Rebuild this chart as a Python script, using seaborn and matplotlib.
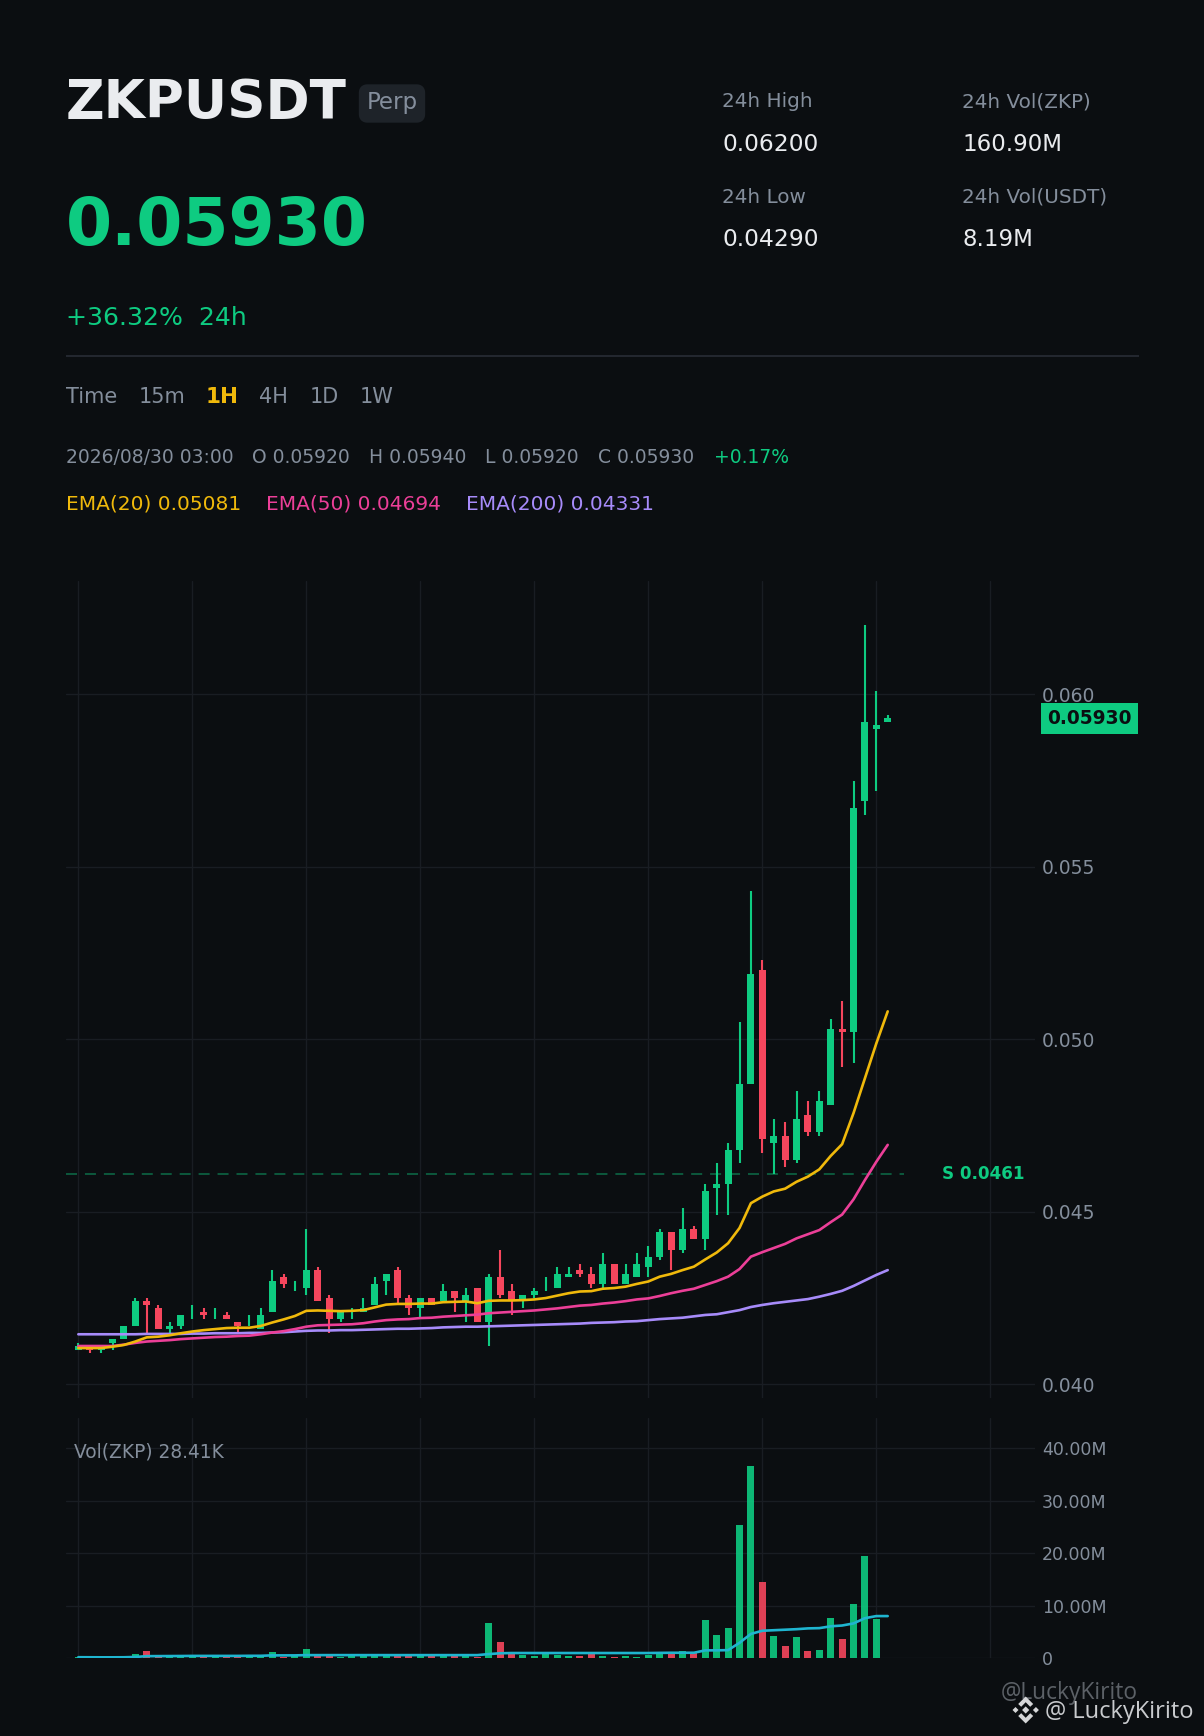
import numpy as np
import pandas as pd
import matplotlib
matplotlib.use("Agg")
import matplotlib.pyplot as plt
from matplotlib.patches import FancyBboxPatch, Polygon, Rectangle
import seaborn as sns

# ---- data (prices in units of 0.0001, volumes in millions) ----
opens = [410,411,410,412,413,417,424,422,416,417,421,421,420,420,418,418,416,421,431,428,
         428,433,425,419,420,421,423,430,433,425,422,425,424,427,424,428,418,431,427,424,
         426,428,428,431,433,432,429,435,429,431,434,437,444,439,445,442,457,458,468,487,
         520,470,472,465,478,473,481,503,502,569,590,592]
highs = [412,411,411,413,417,425,425,423,418,420,423,422,422,421,418,420,422,433,432,430,
         445,434,426,421,422,425,431,432,434,426,425,425,429,427,428,428,432,439,429,426,
         428,431,434,434,435,434,438,435,435,438,440,445,444,451,446,458,464,470,505,543,
         523,477,476,485,482,485,506,511,575,620,601,594]
lows = [410,409,409,410,413,417,415,416,415,416,419,419,419,419,415,417,416,421,428,427,
        426,424,415,418,419,421,423,426,423,420,419,423,424,421,418,418,411,425,420,422,
        425,427,428,431,431,428,428,429,429,431,431,436,433,438,442,439,449,449,464,487,
        467,461,463,464,472,472,481,492,493,565,572,592]
closes = [411,410,411,413,417,424,423,416,417,420,421,420,420,419,417,418,420,430,429,428,
          433,424,419,421,420,422,429,432,425,422,425,423,427,425,426,418,431,426,424,426,
          427,428,432,432,432,429,435,429,432,435,437,444,439,445,442,456,458,468,487,519,
          471,472,465,477,473,482,503,502,567,592,591,593]
ema20 = [410.5,410.5,410.5,410.9,411.4,412.4,413.6,413.8,414.2,414.8,415.3,415.7,416.0,416.3,416.4,416.4,
         416.9,417.9,418.8,419.8,421.3,421.4,421.3,421.2,421.3,421.5,422.3,423.1,423.3,423.3,423.4,423.4,
         423.8,423.9,424.0,423.5,424.2,424.3,424.3,424.4,424.6,425.0,425.7,426.4,426.9,427.0,427.7,427.9,
         428.3,429.1,429.8,431.2,432.0,433.1,434.1,436.2,438.2,440.9,445.3,452.5,454.4,455.9,456.7,458.7,
         460.2,462.3,466.2,469.6,478.6,488.7,498.8,508.1]
ema50 = [411.1,411.1,411.1,411.1,411.5,412.0,412.4,412.6,412.8,413.1,413.3,413.5,413.7,413.8,414.0,414.1,
         414.5,415.0,415.4,416.0,416.7,417.1,417.2,417.3,417.4,417.7,418.2,418.6,418.8,418.9,419.2,419.3,
         419.6,419.8,420.0,420.2,420.6,420.8,421.0,421.2,421.4,421.7,422.0,422.4,422.8,423.0,423.4,423.7,
         424.1,424.6,424.9,425.6,426.4,427.1,427.7,428.8,429.9,431.2,433.4,437.0,438.3,439.5,440.7,442.3,
         443.5,444.7,447.0,449.2,453.6,459.2,464.5,469.4]
ema200 = [414.5,414.5,414.5,414.5,414.5,414.5,414.6,414.6,414.6,414.6,414.7,414.7,414.8,414.8,414.8,414.9,
          414.9,415.0,415.1,415.3,415.5,415.6,415.6,415.7,415.7,415.8,415.9,416.0,416.1,416.1,416.2,416.3,
          416.5,416.6,416.7,416.7,416.8,416.9,417.0,417.1,417.2,417.3,417.4,417.5,417.6,417.8,417.9,418.0,
          418.2,418.3,418.6,418.9,419.1,419.3,419.7,420.1,420.3,420.9,421.5,422.4,423.0,423.5,423.9,424.3,
          424.7,425.4,426.2,427.1,428.5,430.1,431.7,433.1]
volumes = [0.15,0.1,0.1,0.15,0.25,0.76,1.33,0.3,0.3,0.35,0.35,0.15,0.15,0.2,0.25,0.25,0.3,1.15,0.25,0.3,
           1.7,0.4,0.4,0.2,0.3,0.6,0.3,0.3,0.3,0.3,0.35,0.3,0.5,0.4,0.8,0.2,6.7,3.05,0.9,0.57,
           0.38,0.9,0.57,0.38,0.38,0.76,0.38,0.2,0.38,0.2,0.57,0.85,0.85,1.27,0.9,7.3,4.4,5.7,25.4,36.7,
           14.5,4.2,2.3,4.0,1.3,1.5,7.6,3.6,10.3,19.5,7.45,0.028]
vol_ma = [0.15,0.14,0.13,0.13,0.14,0.2,0.35,0.36,0.37,0.38,0.4,0.4,0.4,0.4,0.4,0.42,0.42,0.5,0.5,0.5,
          0.55,0.55,0.55,0.55,0.55,0.55,0.55,0.55,0.55,0.55,0.55,0.55,0.55,0.55,0.55,0.55,0.75,0.9,0.95,0.95,
          0.95,0.95,0.95,0.95,0.95,0.95,0.95,0.95,0.95,0.95,0.95,0.98,1.0,1.0,1.0,1.46,1.46,1.5,2.9,4.6,
          5.2,5.3,5.4,5.5,5.65,5.7,6.05,6.2,6.6,7.6,8.0,8.0]
price_ticks = [0.040,0.045,0.050,0.055,0.060]
volume_ticks = [0,10,20,30,40]
volume_labels = ["0","10.00M","20.00M","30.00M","40.00M"]
time_ticks = [0,10,20,30,40,50,60,70,80]
support = 0.0461
last_price = 0.0593

GREEN, RED = "#0ECB81", "#F6465D"
BG, GRID, GRAY, WHITE = "#0B0E11", "#191D23", "#848E9C", "#EAECEF"
YEL, PINK, PURP, CYAN = "#F0B90B", "#EC3F98", "#A78BFA", "#1FB5D0"
W, H = 1204, 1736

sns.set_theme(style="dark", rc={"axes.facecolor": BG, "figure.facecolor": BG,
                                "savefig.facecolor": BG})
plt.rcParams["font.family"] = ["DejaVu Sans"]

df = pd.DataFrame({"i": np.arange(len(opens)),
                   "o": np.array(opens) * 1e-4, "h": np.array(highs) * 1e-4,
                   "l": np.array(lows) * 1e-4, "c": np.array(closes) * 1e-4,
                   "e20": np.array(ema20) * 1e-4, "e50": np.array(ema50) * 1e-4,
                   "e200": np.array(ema200) * 1e-4,
                   "vol": np.array(volumes), "vma": np.array(vol_ma)})
df["dir"] = np.where(df.c >= df.o, "up", "down")
palette = {"up": GREEN, "down": RED}

fig = plt.figure(figsize=(W / 100, H / 100), dpi=100, facecolor=BG)


def px_axes(l, t, r, b):
    return fig.add_axes([l / W, 1 - b / H, (r - l) / W, (b - t) / H])


def txt(x, y, s, color=GRAY, size=14, weight="normal", **kw):
    return fig.text(x / W, 1 - y / H, s, color=color, fontsize=size, fontweight=weight,
                    va="baseline", ha=kw.pop("ha", "left"), **kw)


ax = px_axes(66, 581, 1035, 1398)
ax2 = px_axes(66, 1418, 1035, 1658)

for a in (ax, ax2):
    a.set_facecolor(BG)
    a.set_xlim(-1.08, 83.92)
    a.set_xticks(time_ticks)
    a.grid(True, color=GRID, lw=1)
    a.set_axisbelow(True)
    for s in a.spines.values():
        s.set_visible(False)
    a.yaxis.tick_right()
    a.tick_params(axis="x", length=0, labelbottom=False)
    a.tick_params(axis="y", length=0, pad=5, labelsize=12.5, labelcolor=GRAY)
ax.tick_params(axis="y", labelsize=13.5)

# candles
ax.vlines(df.i, df.l, df.h, colors=df.dir.map(palette), lw=1.5, zorder=3)
ax.bar(df.i, (df.c - df.o).abs(), bottom=df[["o", "c"]].min(axis=1), width=0.62,
       color=df.dir.map(palette), lw=0, zorder=3)

# EMA lines
for col, colr in (("e200", PURP), ("e50", PINK), ("e20", YEL)):
    sns.lineplot(data=df, x="i", y=col, color=colr, lw=1.9, errorbar=None, ax=ax, zorder=4)

ax.set_xlim(-1.08, 83.92)
ax.set_ylim(0.04 + (1384.3 - 1398) / 34500, 0.04 + (1384.3 - 581) / 34500)
ax.set_yticks(price_ticks)
ax.set_yticklabels([f"{t:.3f}" for t in price_ticks])
ax.set_xlabel("")
ax.set_ylabel("")

# support level
ax.plot([-1.08, 72.4], [support, support], color=GREEN, alpha=0.5, lw=1.1,
        dashes=(7.2, 5.2), dash_capstyle="butt", zorder=2)
ax.text(75.8, support, "S 0.0461", color=GREEN, fontsize=12.1, fontweight="bold", va="center", ha="left",
        clip_on=False)

# last price tag
fig.add_artist(Rectangle((1041 / W, 1 - 734 / H), 97 / W, 31 / H, transform=fig.transFigure,
                         facecolor=GREEN, edgecolor="none", zorder=5))
txt(1089, 724.5, "0.05930", color=BG, size=13.4, weight="bold", ha="center", zorder=6)

# volume panel
sns.barplot(data=df, x="i", y="vol", hue="dir", palette=palette, hue_order=["up", "down"], native_scale=True,
            dodge=False, width=0.62, saturation=1, alpha=0.9, legend=False, ax=ax2, zorder=3,
            edgecolor="none", linewidth=0)
sns.lineplot(data=df, x="i", y="vma", color=CYAN, lw=1.9, errorbar=None, ax=ax2, zorder=4)
ax2.set_xlim(-1.08, 83.92)
ax2.set_ylim(0, (1658 - 1418) / 5.24)
ax2.set_yticks(volume_ticks)
ax2.set_yticklabels(volume_labels)
ax2.set_xticks(time_ticks)
ax2.set_xticklabels([])
ax2.set_xlabel("")
ax2.set_ylabel("")
txt(74.3, 1457, "Vol(ZKP) 28.41K", size=13.4)

# header
txt(66, 118, "ZKPUSDT", color=WHITE, size=38.3, weight="bold")
fig.add_artist(FancyBboxPatch((363 / W, 1 - 118.5 / H), 58 / W, 30 / H,
                              boxstyle="round,pad=0.0,rounding_size=0.0035", transform=fig.transFigure,
                              mutation_aspect=W / H, facecolor="#1E2329", edgecolor="#1E2329",
                              lw=6, joinstyle="round"))
txt(367, 109, "Perp", size=16.5)
txt(66, 245, "0.05930", color=GREEN, size=47.8, weight="bold")
txt(66, 325, "+36.32%  24h", color=GREEN, size=18.1)
fig.add_artist(Rectangle((66 / W, 1 - 356.5 / H), 1073 / W, 1.4 / H, transform=fig.transFigure,
                         facecolor="#23272F", edgecolor="none"))

for x, y, s, c, sz in [(722, 107.3, "24h High", GRAY, 14.4), (722, 150.7, "0.06200", WHITE, 16.8),
                       (722, 202.7, "24h Low", GRAY, 14.4), (722, 246, "0.04290", WHITE, 16.8),
                       (962.5, 107.3, "24h Vol(ZKP)", GRAY, 14.4), (962.5, 150.7, "160.90M", WHITE, 16.5),
                       (962.5, 202.7, "24h Vol(USDT)", GRAY, 14.4), (962.5, 246, "8.19M", WHITE, 16.5)]:
    txt(x, y, s, color=c, size=sz)

for x, s in [(66, "Time"), (138.5, "15m"), (259, "4H"), (310, "1D"), (359.5, "1W")]:
    txt(x, 403, s, size=15)
txt(206, 403, "1H", color=YEL, size=15.5, weight="bold")

for x, s in [(66, "2026/08/30 03:00"), (252, "O 0.05920"), (369, "H 0.05940"), (485, "L 0.05920"),
             (598, "C 0.05930")]:
    txt(x, 462.7, s, size=13.5)
txt(713.5, 462.7, "+0.17%", color=GREEN, size=13.5)

txt(66, 510, "EMA(20) 0.05081", color=YEL, size=14.5)
txt(266, 510, "EMA(50) 0.04694", color=PINK, size=14.5)
txt(466, 510, "EMA(200) 0.04331", color=PURP, size=14.5)

# watermark
txt(1001, 1699, "@LuckyKirito", color="#5C6167", size=16.4, family="Open Sans")
txt(1045, 1718, "@ LuckyKirito", color="#C9CBCE", size=17, family="Open Sans")
cx, cy, u = 1025.7, 1710, 1.0


def diamond(dx, dy, r):
    pts = [(cx + dx + r, cy + dy), (cx + dx, cy + dy + r), (cx + dx - r, cy + dy), (cx + dx, cy + dy - r)]
    fig.add_artist(Polygon([(a / W, 1 - b / H) for a, b in pts], transform=fig.transFigure,
                           facecolor="#D5D6D8", edgecolor="none", zorder=7))


def chevron(sgn):
    pts = [(0, -13.5), (7.5, -6), (4.5, -3.2), (0, -7.8), (-4.5, -3.2), (-7.5, -6)]
    fig.add_artist(Polygon([((cx + a) / W, 1 - (cy + sgn * b) / H) for a, b in pts], transform=fig.transFigure,
                           facecolor="#D5D6D8", edgecolor="none", zorder=7))


chevron(1)
chevron(-1)
diamond(0, 0, 3.6)
diamond(-10.2, 0, 3.0)
diamond(10.2, 0, 3.0)

fig.savefig("out.png", dpi=100, facecolor=BG)
